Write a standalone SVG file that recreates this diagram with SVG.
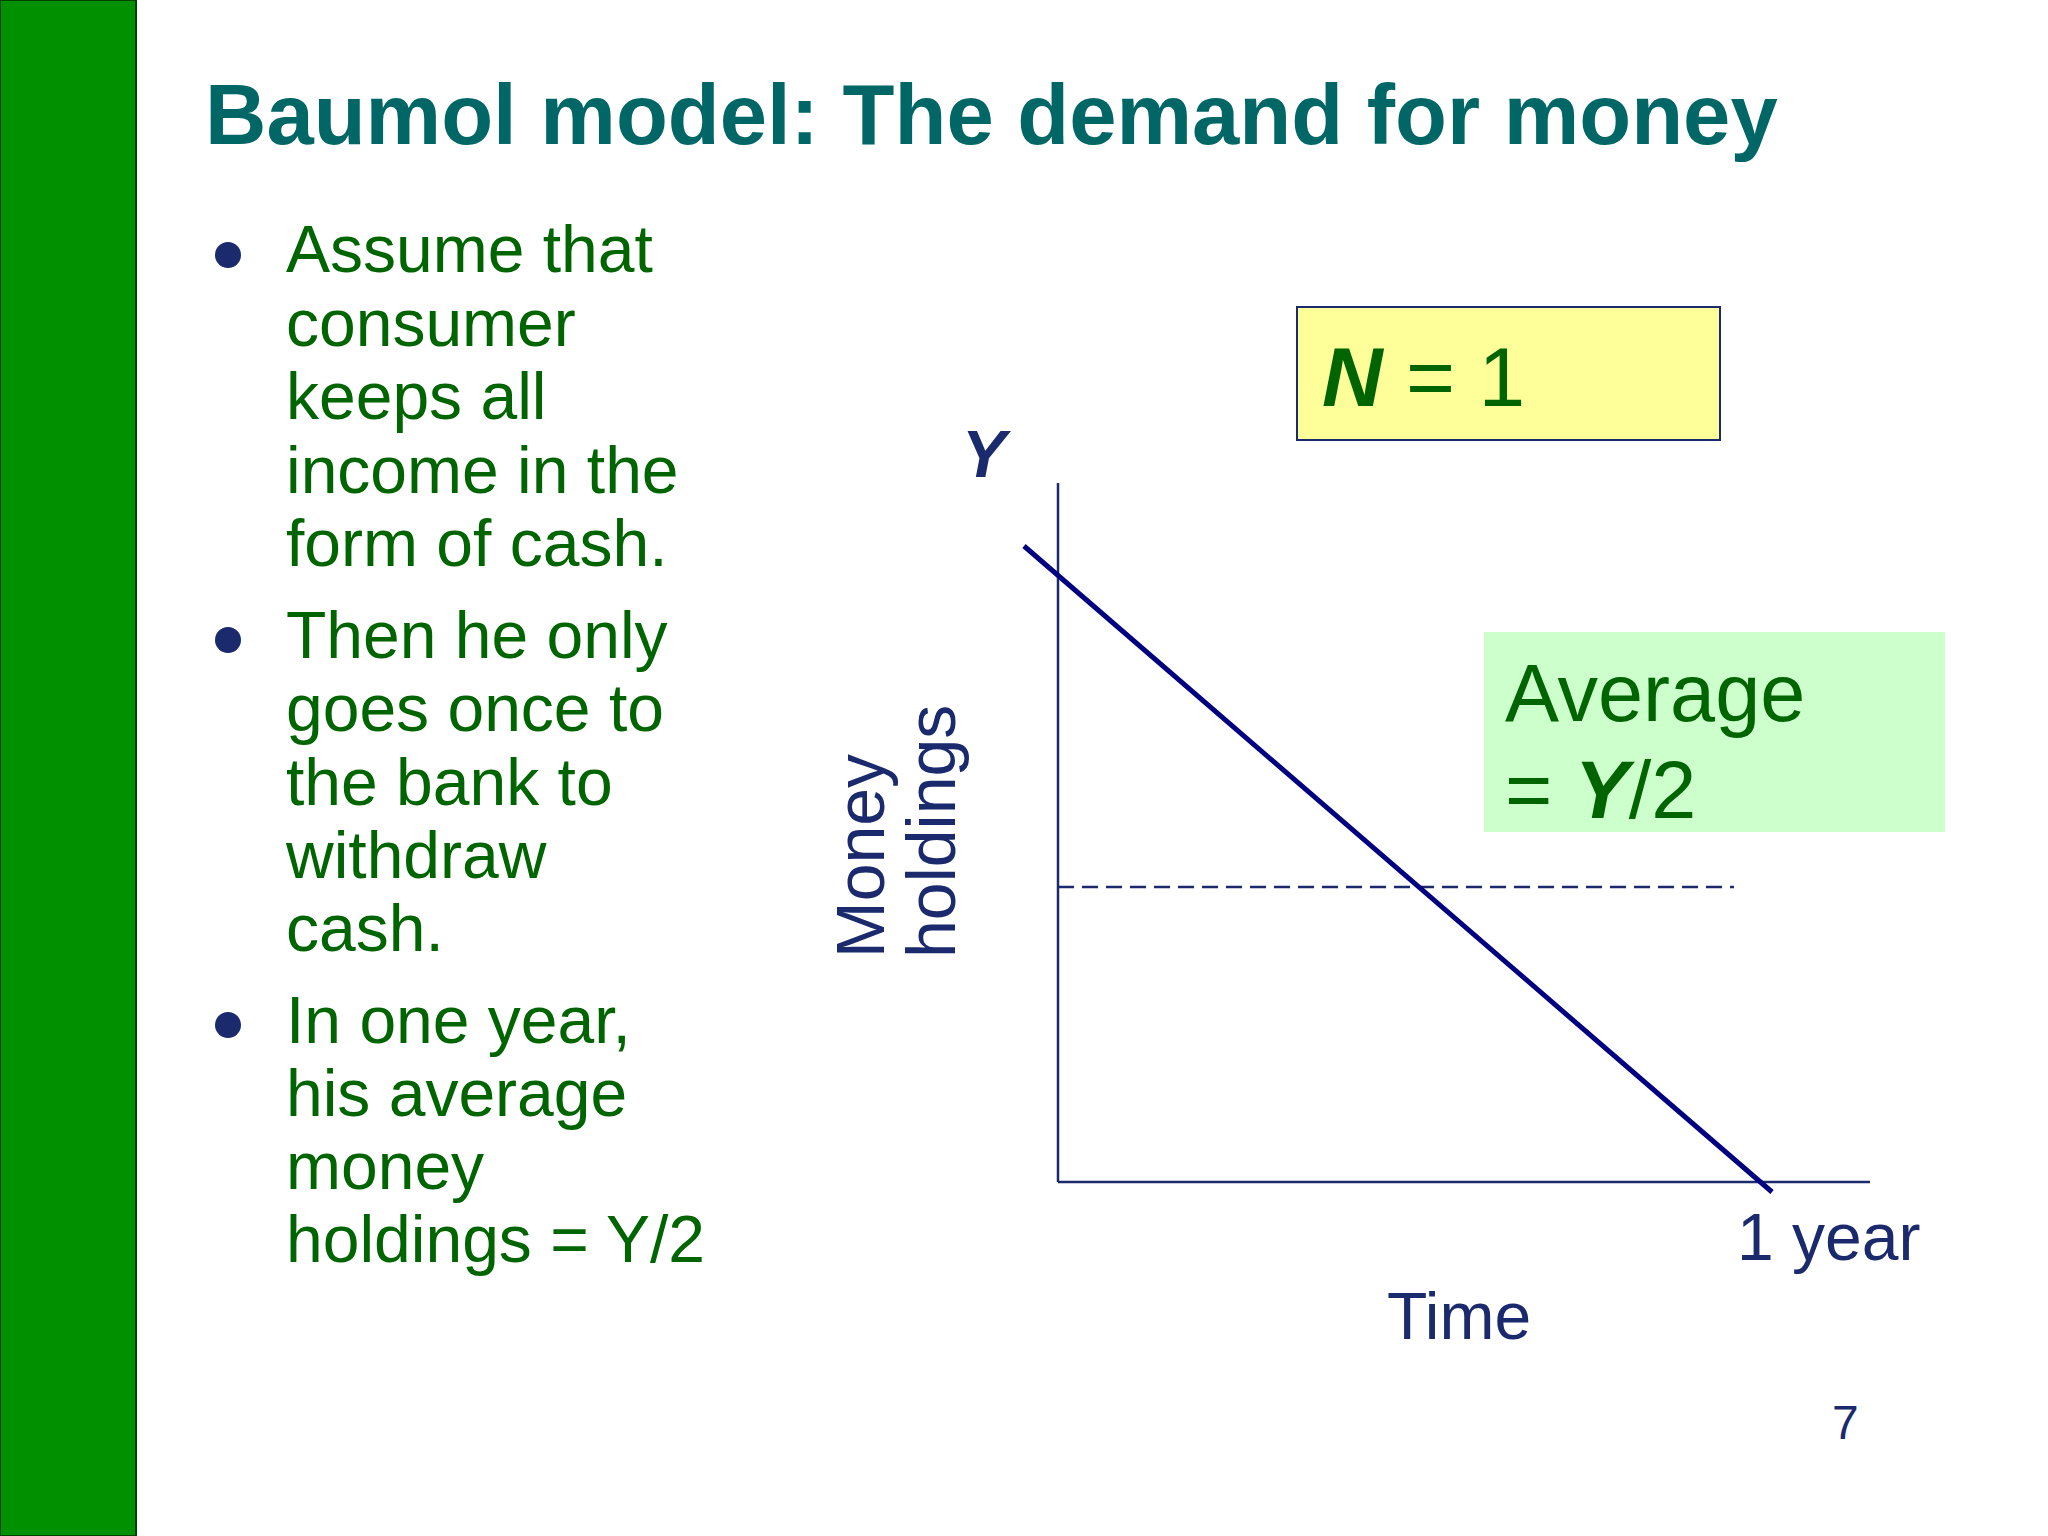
<svg xmlns="http://www.w3.org/2000/svg" width="2048" height="1536" viewBox="0 0 2048 1536">
<style>
.b{font-family:"Liberation Sans",Arial,sans-serif;font-size:66px;fill:#006400}
.n{font-family:"Liberation Sans",Arial,sans-serif;fill:#1a2a6c}
</style>
<rect width="2048" height="1536" fill="#fff"/>
<rect x="0" y="0" width="136" height="1536" fill="#009000" stroke="#004000" stroke-width="2"/>
<text x="205" y="144" font-family="Liberation Sans,Arial,sans-serif" font-weight="bold" font-size="85" fill="#006666">Baumol model: The demand for money</text>
<g id="bullets">
<circle cx="228" cy="255" r="13" fill="#1a2a6c"/>
<circle cx="228" cy="640" r="13" fill="#1a2a6c"/>
<circle cx="228" cy="1025" r="13" fill="#1a2a6c"/>
<text class="b" x="286" y="272">Assume that</text>
<text class="b" x="286" y="346">consumer</text>
<text class="b" x="286" y="419">keeps all</text>
<text class="b" x="286" y="493">income in the</text>
<text class="b" x="286" y="566">form of cash.</text>
<text class="b" x="286" y="658">Then he only</text>
<text class="b" x="286" y="731">goes once to</text>
<text class="b" x="286" y="805">the bank to</text>
<text class="b" x="286" y="878">withdraw</text>
<text class="b" x="286" y="951">cash.</text>
<text class="b" x="286" y="1043">In one year,</text>
<text class="b" x="286" y="1116">his average</text>
<text class="b" x="286" y="1189">money</text>
<text class="b" x="286" y="1262">holdings = Y/2</text>
</g>
<g id="nbox">
<rect x="1297" y="307" width="423" height="133" fill="#ffff99" stroke="#1a2a6c" stroke-width="2"/>
<text x="1322" y="406" font-family="Liberation Sans,Arial,sans-serif" font-size="84" fill="#006400"><tspan font-weight="bold" font-style="italic">N</tspan> = 1</text>
</g>
<g id="avgbox">
<rect x="1484" y="632" width="461" height="200" fill="#ccffcc"/>
<text x="1505" y="721" font-family="Liberation Sans,Arial,sans-serif" font-size="81" fill="#006400">Average</text>
<text x="1505" y="818" font-family="Liberation Sans,Arial,sans-serif" font-size="81" fill="#006400">= <tspan font-weight="bold" font-style="italic">Y</tspan>/2</text>
</g>
<g id="connectors" fill="none">
<line x1="1058" y1="483" x2="1058" y2="1182" stroke="#1a2a6c" stroke-width="2.5"/>
<line x1="1058" y1="1182" x2="1870" y2="1182" stroke="#1a2a6c" stroke-width="2.5"/>
<line x1="1058" y1="887" x2="1734" y2="887" stroke="#1a2a6c" stroke-width="2.5" stroke-dasharray="16,8"/>
<line x1="1024" y1="546" x2="1772" y2="1192" stroke="#000080" stroke-width="5"/>
</g>
<text class="n" x="962" y="477" font-size="66" font-weight="bold" font-style="italic">Y</text>
<text class="n" font-size="68" transform="translate(884,958) rotate(-90)">Money</text>
<text class="n" font-size="68" transform="translate(955,958) rotate(-90)">holdings</text>
<text class="n" x="1737" y="1260" font-size="66">1 year</text>
<text class="n" x="1387" y="1339" font-size="66">Time</text>
<text class="n" x="1832" y="1439" font-size="48">7</text>
</svg>
